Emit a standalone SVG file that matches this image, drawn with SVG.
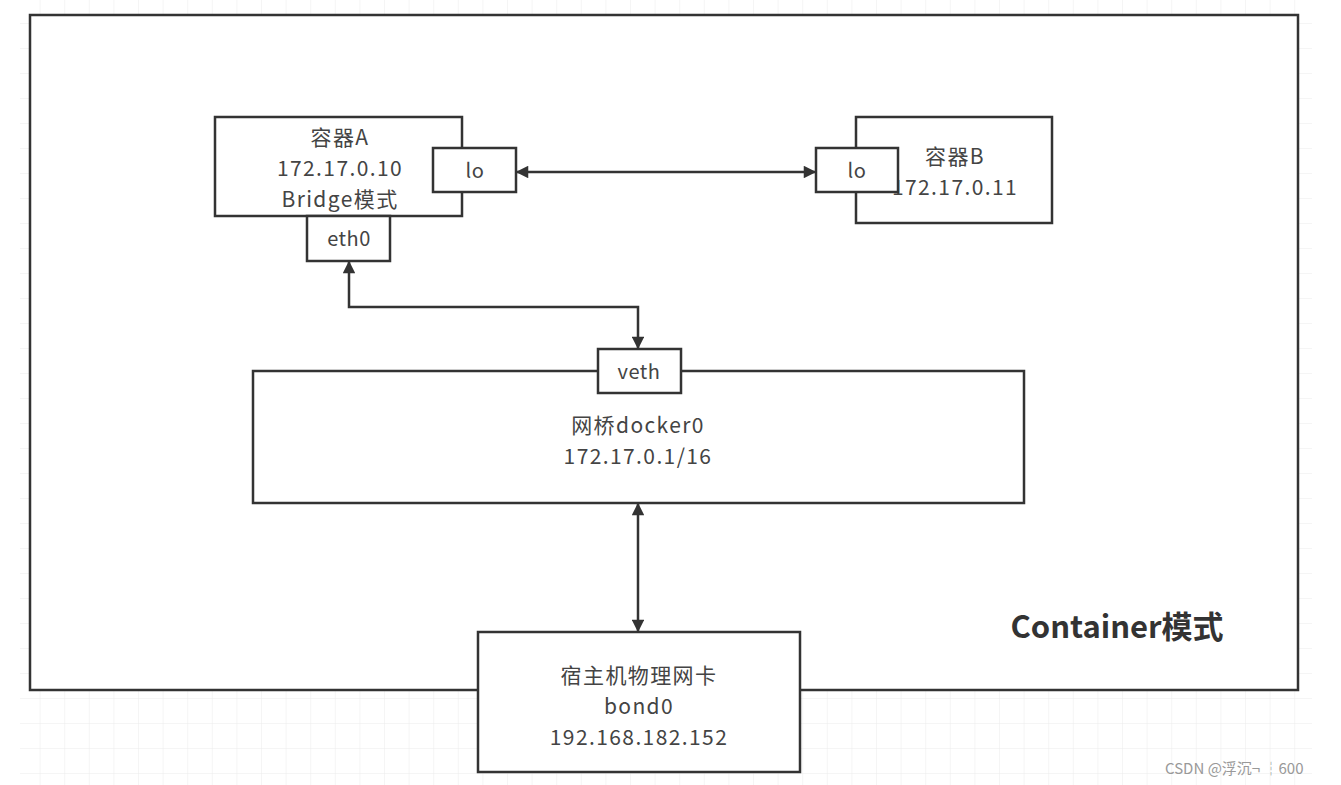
<svg xmlns="http://www.w3.org/2000/svg" width="1341" height="785" viewBox="0 0 1341 785">
<defs>
<pattern id="grid" x="15" y="-2" width="24.6" height="25" patternUnits="userSpaceOnUse">
<path d="M0 0H24.6M0 0V25" fill="none" stroke="#ececec" stroke-width="1"/>
</pattern>
<marker id="ah" viewBox="0 0 10 10" refX="9" refY="5" markerWidth="5.5" markerHeight="5" orient="auto-start-reverse" markerUnits="strokeWidth">
<path d="M0 0L10 5L0 10z" fill="#333"/>
</marker>
<style>
.box{fill:#fff;stroke:#333;stroke-width:2.5}
.t{font-family:"Noto Sans CJK SC","Noto Sans",sans-serif;font-size:21px;letter-spacing:1.4px;fill:#444;text-anchor:middle}
.s{font-size:20px;letter-spacing:0.5px}
.c{fill:none;stroke:#333;stroke-width:2.5}
</style>
</defs>
<rect width="1341" height="785" fill="#fff"/>
<rect x="20" y="0" width="1292" height="785" fill="url(#grid)"/>
<g id="outer">
<rect class="box" x="30" y="15" width="1268" height="675"/>
<text x="1117" y="638" class="t" style="font-size:31px;letter-spacing:0;font-weight:bold;fill:#333">Container模式</text>
</g>
<g id="containerA">
<rect class="box" x="215" y="117" width="247" height="99"/>
<text class="t" x="340" y="145">容器A</text>
<text class="t" x="340" y="176">172.17.0.10</text>
<text class="t" x="340" y="207">Bridge模式</text>
</g>
<g id="loA">
<rect class="box" x="433" y="148" width="83" height="44"/>
<text class="t s" x="475" y="178">lo</text>
</g>
<g id="eth0">
<rect class="box" x="307" y="216" width="83" height="45"/>
<text class="t s" x="349" y="246">eth0</text>
</g>
<g id="containerB">
<rect class="box" x="856" y="117" width="196" height="106"/>
<text class="t" x="955" y="164">容器B</text>
<text class="t" x="955" y="195">172.17.0.11</text>
</g>
<g id="loB">
<rect class="box" x="816" y="148" width="82" height="44"/>
<text class="t s" x="857" y="178">lo</text>
</g>
<g id="bridge">
<rect class="box" x="253" y="371" width="771" height="132"/>
<text class="t" x="638" y="433">网桥docker0</text>
<text class="t" x="638" y="464">172.17.0.1/16</text>
</g>
<g id="veth">
<rect class="box" x="598" y="349" width="83" height="44"/>
<text class="t s" x="639" y="379">veth</text>
</g>
<g id="host">
<rect class="box" x="478" y="632" width="322" height="140"/>
<text class="t" x="639" y="683">宿主机物理网卡</text>
<text class="t" x="639" y="714">bond0</text>
<text class="t" x="639" y="745">192.168.182.152</text>
</g>
<g id="connectors">
<path class="c" d="M517 172H815" marker-start="url(#ah)" marker-end="url(#ah)"/>
<path class="c" d="M349 262V307H638V348" marker-start="url(#ah)" marker-end="url(#ah)"/>
<path class="c" d="M638 504V631" marker-start="url(#ah)" marker-end="url(#ah)"/>
</g>
<text x="1165" y="774" style="font-family:'Noto Sans CJK SC','Noto Sans',sans-serif;font-size:15px;fill:#999">CSDN @浮沉¬  ┆600</text>
</svg>
